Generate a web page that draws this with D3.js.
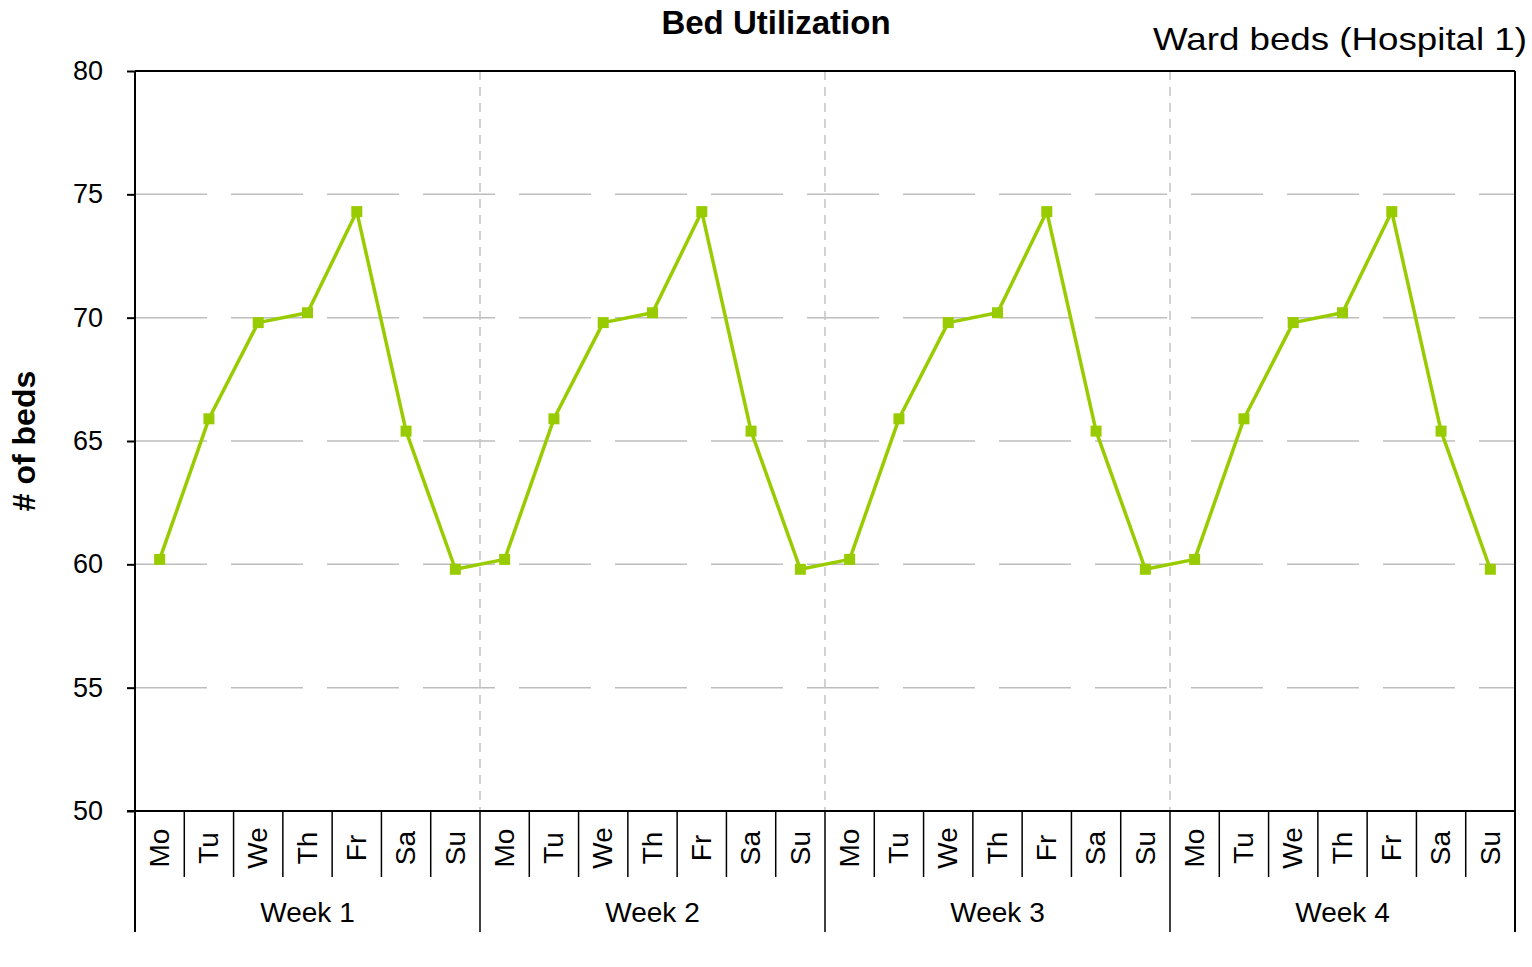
<!DOCTYPE html>
<html>
<head>
<meta charset="utf-8">
<script src="https://cdn.jsdelivr.net/npm/d3@7"></script>
<style>
  html, body { margin: 0; padding: 0; background: #fff; }
  svg { display: block; font-family: "Liberation Sans", Arial, sans-serif; }
</style>
</head>
<body>
<div id="chart"></div>
<script>
// chart data
const weeks = ["Week 1", "Week 2", "Week 3", "Week 4"];
const days = ["Mo", "Tu", "We", "Th", "Fr", "Sa", "Su"];
const beds = [
    60.2, 65.9, 69.8, 70.2, 74.3, 65.4, 59.8,
    60.2, 65.9, 69.8, 70.2, 74.3, 65.4, 59.8,
    60.2, 65.9, 69.8, 70.2, 74.3, 65.4, 59.8,
    60.2, 65.9, 69.8, 70.2, 74.3, 65.4, 59.8
];
const yTicks = [50, 55, 60, 65, 70, 75, 80];
const title = "Bed Utilization";
const subtitle = "Ward beds (Hospital 1)";
const yLabel = "# of beds";

const width = 1532, height = 967;
const plotLeft = 135, plotRight = 1515, plotTop = 71, plotBottom = 811;
const green = "#99cc00";

const slots = weeks.flatMap((w, wi) => days.map((d, di) => ({ week: w, day: d, key: wi + "-" + di })));
const points = slots.map((s, i) => ({ ...s, value: beds[i] }));

const x = d3.scaleBand().domain(slots.map(s => s.key)).range([plotLeft, plotRight]).padding(0);
const xWeek = d3.scaleBand().domain(weeks).range([plotLeft, plotRight]).padding(0);
const y = d3.scaleLinear().domain([50, 80]).range([plotBottom, plotTop]);

const svg = d3.select("#chart").append("svg")
    .attr("width", width)
    .attr("height", height);

// horizontal grid (dashed grey)
svg.append("g")
    .selectAll("line")
    .data(yTicks.filter(t => t > 50 && t < 80))
    .join("line")
    .attr("x1", plotLeft).attr("x2", plotRight)
    .attr("y1", d => y(d)).attr("y2", d => y(d))
    .attr("stroke", "#bdbdbd")
    .attr("stroke-width", 1.5)
    .attr("stroke-dasharray", "72,24");

// week dividers inside the plot
svg.append("g")
    .selectAll("line")
    .data(weeks.slice(1))
    .join("line")
    .attr("x1", d => xWeek(d)).attr("x2", d => xWeek(d))
    .attr("y1", plotTop).attr("y2", plotBottom)
    .attr("stroke", "#c4c4c4")
    .attr("stroke-width", 1.5)
    .attr("stroke-dasharray", "9,7");

// frame: top and right
const frame = svg.append("g").attr("stroke", "#000").attr("stroke-width", 2);
frame.append("line").attr("x1", plotLeft).attr("x2", plotRight).attr("y1", plotTop).attr("y2", plotTop);
frame.append("line").attr("x1", plotRight).attr("x2", plotRight).attr("y1", plotTop).attr("y2", 932);

// y axis
const yAxis = svg.append("g")
    .attr("transform", `translate(${plotLeft},0)`)
    .call(d3.axisLeft(y).tickValues(yTicks).tickSize(8).tickPadding(24));
yAxis.select(".domain").remove();
yAxis.selectAll(".tick line").attr("stroke", "#000").attr("stroke-width", 2);
yAxis.selectAll(".tick text")
    .attr("font-size", 27)
    .attr("fill", "#000")
    .attr("font-family", "Liberation Sans, Arial, sans-serif");
svg.append("line")
    .attr("x1", plotLeft).attr("x2", plotLeft)
    .attr("y1", plotTop).attr("y2", 932)
    .attr("stroke", "#000").attr("stroke-width", 2);

// x axis: baseline, day separators, week separators
svg.append("line")
    .attr("x1", plotLeft - 8).attr("x2", plotRight)
    .attr("y1", plotBottom).attr("y2", plotBottom)
    .attr("stroke", "#000").attr("stroke-width", 2);

svg.append("g")
    .selectAll("line")
    .data(slots.filter((s, i) => i % 7 !== 0))
    .join("line")
    .attr("x1", d => x(d.key)).attr("x2", d => x(d.key))
    .attr("y1", plotBottom).attr("y2", 877)
    .attr("stroke", "#000").attr("stroke-width", 1.5);

svg.append("g")
    .selectAll("line")
    .data(weeks.slice(1))
    .join("line")
    .attr("x1", d => xWeek(d)).attr("x2", d => xWeek(d))
    .attr("y1", plotBottom).attr("y2", 932)
    .attr("stroke", "#000").attr("stroke-width", 1.5);

svg.append("g")
    .selectAll("text")
    .data(slots)
    .join("text")
    .attr("transform", d => `translate(${x(d.key) + x.bandwidth() / 2},848) rotate(-90)`)
    .attr("dy", "0.33em")
    .attr("text-anchor", "middle")
    .attr("font-size", 28)
    .text(d => d.day);

svg.append("g")
    .selectAll("text")
    .data(weeks)
    .join("text")
    .attr("x", d => xWeek(d) + xWeek.bandwidth() / 2)
    .attr("y", 922)
    .attr("text-anchor", "middle")
    .attr("font-size", 28)
    .text(d => d);

// series
const line = d3.line()
    .x(d => x(d.key) + x.bandwidth() / 2)
    .y(d => y(d.value));

svg.append("path")
    .datum(points)
    .attr("fill", "none")
    .attr("stroke", green)
    .attr("stroke-width", 3.5)
    .attr("stroke-linejoin", "round")
    .attr("d", line);

svg.append("g")
    .selectAll("rect")
    .data(points)
    .join("rect")
    .attr("x", d => x(d.key) + x.bandwidth() / 2 - 5.5)
    .attr("y", d => y(d.value) - 5.5)
    .attr("width", 11)
    .attr("height", 11)
    .attr("fill", green);

// titles
svg.append("text")
    .attr("x", 776).attr("y", 34)
    .attr("text-anchor", "middle")
    .attr("font-size", 33)
    .attr("font-weight", "bold")
    .text(title);

svg.append("text")
    .attr("x", 1527).attr("y", 50)
    .attr("text-anchor", "end")
    .attr("font-size", 32)
    .attr("textLength", 374)
    .attr("lengthAdjust", "spacingAndGlyphs")
    .text(subtitle);

svg.append("text")
    .attr("transform", `translate(35,${(plotTop + plotBottom) / 2}) rotate(-90)`)
    .attr("text-anchor", "middle")
    .attr("font-size", 32)
    .attr("font-weight", "bold")
    .text(yLabel);
</script>
</body>
</html>
